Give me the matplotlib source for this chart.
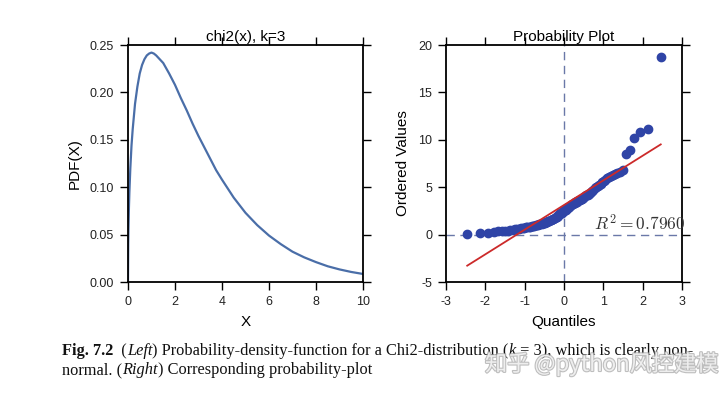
import numpy as np
import matplotlib
matplotlib.use('Agg')
import matplotlib.pyplot as plt
import matplotlib.patheffects as pe

plt.rcParams['font.family'] = ['Liberation Sans', 'DejaVu Sans']
plt.rcParams['axes.unicode_minus'] = False
plt.rcParams['mathtext.fontset'] = 'cm'

# --- left panel: chi2 pdf, k=3 ---
pdf_x = [0.0, 0.01, 0.02, 0.04, 0.06, 0.1, 0.15, 0.2, 0.3, 0.4, 0.5, 0.6, 0.7,
         0.8, 0.9, 1.0, 1.1, 1.2, 1.35, 1.5, 1.75, 2.0, 2.25, 2.5, 2.75, 3.0,
         3.25, 3.5, 3.75, 4.0, 4.5, 5.0, 5.5, 6.0, 6.5, 7.0, 7.5, 8.0, 8.5,
         9.0, 9.5, 10.0]
pdf_y = [0.0, 0.040, 0.056, 0.078, 0.095, 0.120, 0.144, 0.161, 0.188, 0.206,
         0.220, 0.229, 0.235, 0.239, 0.241, 0.242, 0.241, 0.239, 0.235, 0.231,
         0.220, 0.208, 0.194, 0.181, 0.167, 0.154, 0.142, 0.130, 0.118, 0.108,
         0.089, 0.073, 0.060, 0.049, 0.040, 0.032, 0.026, 0.021, 0.0166,
         0.0133, 0.0106, 0.0085]

# --- right panel: probability plot (theoretical quantiles vs ordered sample) ---
quantiles = [-2.46, -2.13, -1.93, -1.79, -1.68, -1.58, -1.50, -1.43, -1.36, -1.30,
             -1.25, -1.19, -1.14, -1.10, -1.05, -1.01, -0.97, -0.93, -0.89, -0.86,
             -0.82, -0.79, -0.75, -0.72, -0.69, -0.66, -0.63, -0.60, -0.57, -0.54,
             -0.51, -0.48, -0.45, -0.42, -0.40, -0.37, -0.34, -0.32, -0.29, -0.27,
             -0.24, -0.21, -0.19, -0.16, -0.14, -0.11, -0.09, -0.06, -0.04, -0.01,
             0.01, 0.04, 0.06, 0.09, 0.11, 0.14, 0.16, 0.19, 0.21, 0.24,
             0.27, 0.29, 0.32, 0.34, 0.37, 0.40, 0.42, 0.45, 0.48, 0.51,
             0.54, 0.57, 0.60, 0.63, 0.66, 0.69, 0.72, 0.75, 0.79, 0.82,
             0.86, 0.89, 0.93, 0.97, 1.01, 1.05, 1.10, 1.14, 1.19, 1.25,
             1.30, 1.36, 1.43, 1.50, 1.58, 1.68, 1.79, 1.93, 2.13, 2.46]
ordered_values = [0.05, 0.15, 0.22, 0.30, 0.34, 0.37, 0.40, 0.43, 0.47, 0.52,
                  0.55, 0.60, 0.64, 0.67, 0.70, 0.73, 0.76, 0.79, 0.82, 0.85,
                  0.89, 0.92, 0.95, 0.98, 1.01, 1.05, 1.08, 1.12, 1.16, 1.20,
                  1.23, 1.27, 1.31, 1.35, 1.40, 1.45, 1.50, 1.56, 1.62, 1.68,
                  1.74, 1.82, 1.90, 1.98, 2.07, 2.16, 2.25, 2.33, 2.41, 2.48,
                  2.55, 2.62, 2.70, 2.78, 2.86, 2.94, 3.02, 3.10, 3.18, 3.26,
                  3.33, 3.40, 3.47, 3.54, 3.60, 3.66, 3.72, 3.80, 3.88, 3.96,
                  4.05, 4.14, 4.23, 4.33, 4.43, 4.53, 4.64, 4.75, 4.87, 4.99,
                  5.12, 5.25, 5.38, 5.52, 5.66, 5.80, 5.95, 6.08, 6.20, 6.32,
                  6.43, 6.53, 6.63, 6.80, 8.55, 8.90, 10.20, 10.80, 11.10, 18.70]
fit_slope = 2.60
fit_intercept = 3.12
r2_label = r'$R^2=0.7960$'

caption_line1 = [("Fig. 7.2", 'bold', 'normal'), ("  (", 'normal', 'normal'),
                 ("Left", 'normal', 'italic'),
                 (") Probability-density-function for a Chi2-distribution (", 'normal', 'normal'),
                 ("k", 'normal', 'italic'), (" = 3), which is clearly non-", 'normal', 'normal')]
caption_line2 = [("normal. (", 'normal', 'normal'), ("Right", 'normal', 'italic'),
                 (") Corresponding probability-plot", 'normal', 'normal')]
watermark = "知乎 @python风控建模"

CAP_SIZE = 11.8


def style_axes(ax):
    for s in ax.spines.values():
        s.set_linewidth(1.3)
        s.set_color('black')
    ax.tick_params(direction='out', length=6, width=1, pad=4, labelsize=9,
                   top=True, right=True, colors='black', labelcolor='#222222')


fig = plt.figure(figsize=(7.28, 3.99), dpi=100)
ax1 = fig.add_axes([0.1758, 0.2932, 0.3228, 0.594])
ax2 = fig.add_axes([0.6126, 0.2932, 0.3242, 0.594])

# left: pdf
ax1.plot(pdf_x, pdf_y, '-', color='#4a6ea8', lw=1.6)
ax1.set_xlim(0, 10)
ax1.set_ylim(0, 0.25)
ax1.set_xticks([0, 2, 4, 6, 8, 10])
ax1.set_yticks([0.0, 0.05, 0.10, 0.15, 0.20, 0.25])
ax1.set_yticklabels(['0.00', '0.05', '0.10', '0.15', '0.20', '0.25'])
ax1.set_xlabel('X', fontsize=11, labelpad=5)
ax1.set_ylabel('PDF(X)', fontsize=11, labelpad=6)
ax1.set_title('chi2(x), k=3', fontsize=11, y=1.0, pad=3)
style_axes(ax1)

# right: probability plot
ax2.axvline(0, color='#6a78a8', lw=1, dashes=(6, 4), zorder=1)
ax2.axhline(0, color='#6a78a8', lw=1, dashes=(6, 4), zorder=1)
ax2.plot(quantiles, ordered_values, 'o', color='#2f44a6', markersize=6, zorder=2)
qx = np.array([min(quantiles), max(quantiles)])
ax2.plot(qx, fit_slope * qx + fit_intercept, '-', color='#cc2a2a', lw=1.3, zorder=3)
ax2.set_xlim(-3, 3)
ax2.set_ylim(-5, 20)
ax2.set_xticks([-3, -2, -1, 0, 1, 2, 3])
ax2.set_yticks([-5, 0, 5, 10, 15, 20])
ax2.set_xlabel('Quantiles', fontsize=11, labelpad=5)
ax2.set_ylabel('Ordered Values', fontsize=11, labelpad=6)
ax2.set_title('Probability Plot', fontsize=11, y=1.0, pad=3)
ax2.text(3.08, 0.15, r2_label, ha='right', va='bottom', fontsize=12.5,
         color='#333333', clip_on=False, zorder=4)
style_axes(ax2)

# caption laid out run by run
renderer = fig.canvas.get_renderer()
W, H = fig.bbox.width, fig.bbox.height


def run_width(s, weight, style):
    t1 = fig.text(0, 0, s + 'x', family='Liberation Serif', fontsize=CAP_SIZE,
                  weight=weight, style=style)
    t2 = fig.text(0, 0, 'x', family='Liberation Serif', fontsize=CAP_SIZE,
                  weight=weight, style=style)
    w = t1.get_window_extent(renderer).width - t2.get_window_extent(renderer).width
    t1.remove()
    t2.remove()
    return w


def draw_line(runs, x0, y0):
    x = x0
    for s, weight, style in runs:
        fig.text(x / W, 1 - y0 / H, s, family='Liberation Serif', fontsize=CAP_SIZE,
                 weight=weight, style=style, va='baseline', ha='left', color='#111111')
        x += run_width(s, weight, style)


draw_line(caption_line1, 62, 355)
draw_line(caption_line2, 62, 374)

fig.text(485 / W, 1 - 364 / H, watermark, family=['Noto Sans CJK SC', 'DejaVu Sans'],
         fontsize=16, color='white', alpha=0.75, va='center', ha='left',
         path_effects=[pe.withStroke(linewidth=1.6, foreground='#a8a8a8')])

fig.savefig('out.png', dpi=100)
